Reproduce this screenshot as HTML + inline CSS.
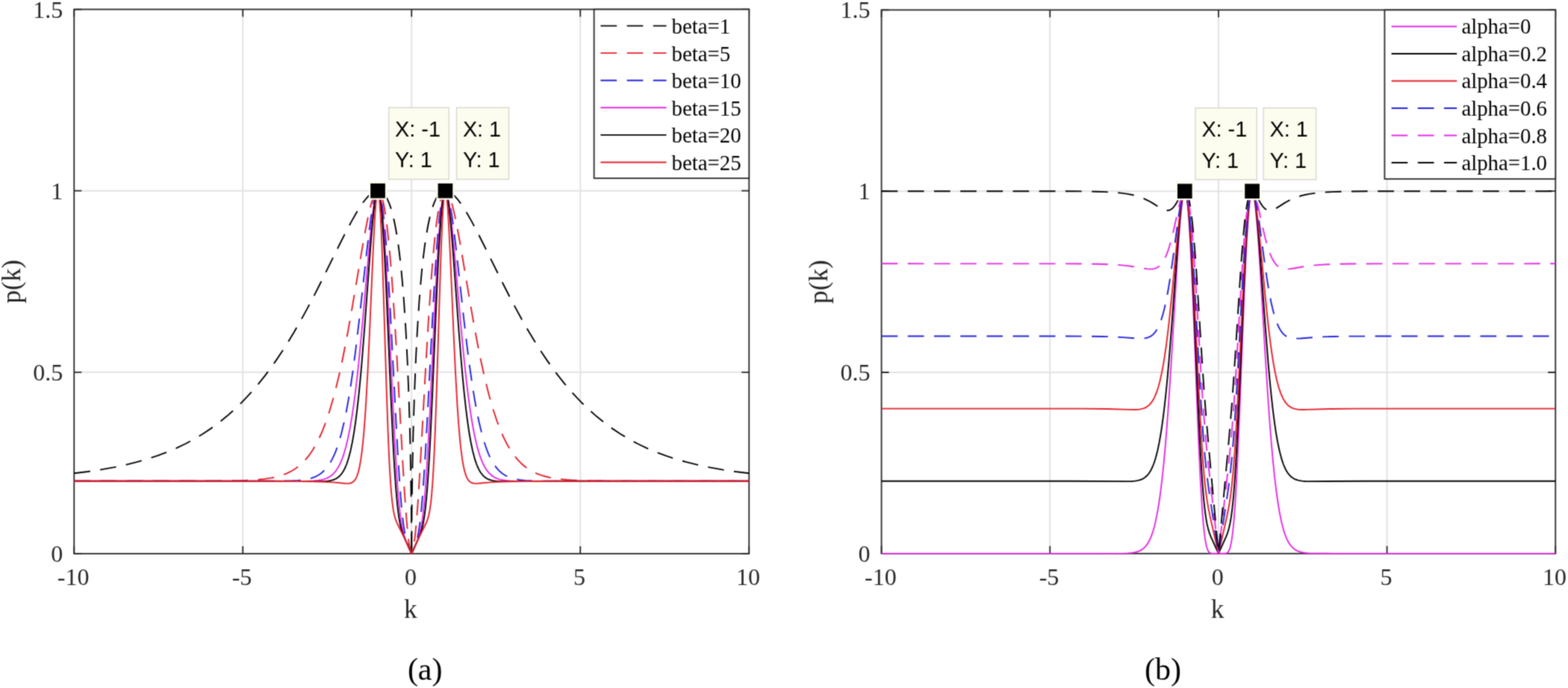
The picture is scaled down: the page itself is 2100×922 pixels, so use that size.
<!DOCTYPE html>
<html><head><meta charset="utf-8"><title>p(k) plots</title>
<style>html,body{margin:0;padding:0;background:#fff;}body{width:2100px;height:922px;overflow:hidden;}svg{display:block;}</style>
</head><body>
<svg width="2100" height="922" viewBox="0 0 2100 922">
<defs><filter id="soft" filterUnits="userSpaceOnUse" x="0" y="0" width="2100" height="922" color-interpolation-filters="sRGB"><feConvolveMatrix order="3" kernelMatrix="1 3 1 3 9 3 1 3 1" divisor="25" edgeMode="duplicate"/></filter></defs>
<g filter="url(#soft)">
<rect x="0" y="0" width="2100" height="922" fill="#ffffff"/>
<path d="M325.24 12.55V742M551.23 12.55V742M777.21 12.55V742M99.25 498.85H1003.2M99.25 255.7H1003.2" stroke="#e2e2e2" stroke-width="2.0" fill="none"/>
<path d="M99.25 742v-10M99.25 12.55v10M325.24 742v-10M325.24 12.55v10M551.23 742v-10M551.23 12.55v10M777.21 742v-10M777.21 12.55v10M1003.2 742v-10M1003.2 12.55v10M99.25 742h10M1003.2 742h-10M99.25 498.85h10M1003.2 498.85h-10M99.25 255.7h10M1003.2 255.7h-10M99.25 12.55h10M1003.2 12.55h-10" stroke="#262626" stroke-width="1.8" fill="none"/>
<rect x="99.25" y="12.55" width="903.95" height="729.45" fill="none" stroke="#262626" stroke-width="1.8"/>
<g fill="none" stroke-width="1.9" stroke-linejoin="round">
<path d="M99.25 634.29 L117.80 631.98 L135.27 629.37 L151.79 626.42 L167.45 623.12 L182.39 619.44 L196.65 615.38 L210.30 610.90 L223.41 605.99 L236.09 600.61 L248.31 594.75 L260.13 588.39 L271.57 581.52 L282.66 574.12 L293.46 566.15 L303.99 557.60 L314.25 548.47 L322.48 540.54 L330.57 532.17 L338.53 523.38 L346.39 514.11 L354.16 504.37 L361.85 494.14 L369.51 483.35 L377.12 472.03 L385.55 458.79 L394.05 444.71 L402.66 429.70 L411.47 413.61 L419.52 398.34 L428.13 381.48 L453.96 329.26 L462.10 313.10 L470.25 297.62 L477.28 285.24 L481.69 278.12 L485.80 272.06 L489.64 267.03 L493.28 262.92 L496.72 259.76 L498.37 258.52 L499.99 257.49 L501.55 256.71 L503.09 256.15 L504.58 255.81 L506.03 255.70" stroke="#000000" stroke-dasharray="21.7 13.5" stroke-dashoffset="0.00"/>
<path d="M506.03 255.70 L507.43 255.81 L508.78 256.13 L510.12 256.68 L511.41 257.43 L512.67 258.40 L513.91 259.59 L516.31 262.62 L518.62 266.56 L520.81 271.35 L522.91 277.06 L524.92 283.66 L526.86 291.25 L528.72 299.75 L530.50 309.25 L532.20 319.63 L533.85 331.19 L535.41 343.61 L536.90 357.04 L538.32 371.49 L539.74 387.77 L541.08 404.96 L543.54 442.87 L545.71 485.25 L547.56 531.73 L549.08 581.85 L550.23 635.28 L550.95 688.96 L551.23 742.00" stroke="#000000" stroke-dasharray="21.7 13.5" stroke-dashoffset="24.98"/>
<path d="M551.23 742.00 L551.50 688.96 L552.22 635.28 L553.37 581.85 L554.89 531.73 L556.74 485.25 L558.91 442.87 L561.37 404.96 L562.71 387.77 L564.13 371.49 L565.55 357.04 L567.04 343.61 L568.60 331.19 L570.25 319.63 L571.95 309.25 L573.73 299.75 L575.59 291.25 L577.53 283.66 L579.54 277.06 L581.64 271.35 L583.83 266.56 L586.14 262.62 L588.54 259.59 L589.78 258.40 L591.04 257.43 L592.33 256.68 L593.67 256.13 L595.02 255.81 L596.42 255.70" stroke="#000000" stroke-dasharray="21.7 13.5" stroke-dashoffset="26.44"/>
<path d="M596.42 255.70 L597.87 255.81 L599.36 256.15 L600.90 256.71 L602.46 257.49 L604.08 258.52 L605.73 259.76 L609.17 262.92 L612.81 267.03 L616.65 272.06 L620.76 278.12 L625.17 285.24 L632.20 297.62 L640.35 313.10 L648.49 329.26 L674.32 381.48 L682.93 398.34 L690.98 413.61 L699.79 429.70 L708.40 444.71 L716.90 458.79 L725.33 472.03 L732.94 483.35 L740.60 494.14 L748.29 504.37 L756.06 514.11 L763.92 523.38 L771.88 532.17 L779.97 540.54 L788.20 548.47 L798.46 557.60 L808.99 566.15 L819.79 574.12 L830.88 581.52 L842.32 588.39 L854.14 594.75 L866.36 600.61 L879.04 605.99 L892.15 610.90 L905.80 615.38 L920.06 619.44 L935.00 623.12 L950.66 626.42 L967.18 629.37 L984.65 631.98 L1003.20 634.29" stroke="#000000" stroke-dasharray="21.7 13.5" stroke-dashoffset="29.15"/>
<path d="M99.25 644.74 L244.13 644.72 L290.41 644.59 L307.86 644.40 L321.71 644.08 L333.31 643.62 L343.25 642.99 L354.10 641.90 L363.54 640.43 L367.88 639.54 L371.97 638.53 L375.86 637.41 L379.56 636.16 L383.14 634.76 L386.57 633.22 L389.85 631.54 L393.01 629.70 L396.06 627.70 L399.00 625.54 L401.85 623.21 L404.63 620.68 L407.70 617.57 L410.68 614.20 L413.58 610.58 L416.38 606.69 L419.11 602.52 L421.80 598.03 L424.42 593.25 L426.98 588.17 L429.49 582.77 L431.95 577.04 L434.37 570.97 L436.76 564.52 L441.44 550.54 L446.01 535.06 L450.28 518.83 L454.50 501.06 L458.75 481.46 L463.09 459.73 L466.89 439.39 L470.95 416.42 L486.52 324.44 L490.03 305.35 L493.10 290.14 L494.95 281.91 L496.72 274.86 L498.41 268.94 L500.04 264.14 L501.60 260.45 L503.11 257.81 L503.86 256.89 L504.58 256.23 L505.30 255.84 L506.03 255.70" stroke="#e41e28" stroke-dasharray="21.7 13.5" stroke-dashoffset="0.00"/>
<path d="M506.03 255.70 L507.07 255.99 L508.11 256.87 L509.12 258.34 L510.14 260.43 L511.13 263.11 L512.11 266.35 L514.03 274.66 L515.93 285.48 L517.78 298.66 L519.63 314.52 L521.46 332.86 L523.20 352.78 L524.94 375.05 L528.56 428.41 L531.99 486.44 L539.52 622.26 L541.48 654.64 L543.23 680.31 L545.26 705.49 L546.23 715.34 L547.20 723.65 L548.15 730.21 L549.10 735.27 L550.07 739.01 L551.23 742.00" stroke="#e41e28" stroke-dasharray="21.7 13.5" stroke-dashoffset="22.71"/>
<path d="M551.23 742.00 L552.38 739.01 L553.35 735.27 L554.30 730.21 L555.25 723.65 L556.22 715.34 L557.19 705.49 L559.22 680.31 L560.97 654.64 L562.93 622.26 L570.46 486.44 L573.89 428.41 L577.51 375.05 L579.25 352.78 L580.99 332.86 L582.82 314.52 L584.67 298.66 L586.52 285.48 L588.42 274.66 L590.34 266.35 L591.32 263.11 L592.31 260.43 L593.33 258.34 L594.34 256.87 L595.38 255.99 L596.42 255.70" stroke="#e41e28" stroke-dasharray="21.7 13.5" stroke-dashoffset="18.44"/>
<path d="M596.42 255.70 L597.15 255.84 L597.87 256.23 L598.59 256.89 L599.34 257.81 L600.85 260.45 L602.41 264.14 L604.04 268.94 L605.73 274.86 L607.50 281.91 L609.35 290.14 L612.42 305.35 L615.93 324.44 L631.50 416.42 L635.56 439.39 L639.36 459.73 L643.70 481.46 L647.95 501.06 L652.17 518.83 L656.44 535.06 L661.01 550.54 L665.69 564.52 L668.08 570.97 L670.50 577.04 L672.96 582.77 L675.47 588.17 L678.03 593.25 L680.65 598.03 L683.34 602.52 L686.07 606.69 L688.87 610.58 L691.77 614.20 L694.75 617.57 L697.82 620.68 L700.60 623.21 L703.45 625.54 L706.39 627.70 L709.44 629.70 L712.60 631.54 L715.88 633.22 L719.31 634.76 L722.89 636.16 L726.59 637.41 L730.48 638.53 L734.57 639.54 L738.91 640.43 L748.35 641.90 L759.20 642.99 L769.14 643.62 L780.74 644.08 L794.59 644.40 L812.04 644.59 L858.32 644.72 L1003.20 644.74" stroke="#e41e28" stroke-dasharray="21.7 13.5" stroke-dashoffset="15.68"/>
<path d="M99.25 644.74 L356.60 644.74 L377.64 644.62 L390.98 644.30 L399.16 643.83 L405.94 643.13 L411.81 642.14 L416.97 640.83 L421.67 639.12 L425.91 637.00 L429.82 634.42 L433.46 631.32 L435.84 628.87 L438.12 626.13 L440.31 623.10 L442.43 619.75 L444.47 616.12 L446.46 612.12 L448.38 607.79 L450.25 603.09 L452.08 598.01 L453.87 592.55 L457.33 580.43 L460.67 566.56 L463.90 550.96 L466.86 534.64 L469.80 516.45 L472.74 496.24 L475.75 473.54 L481.17 428.04 L492.06 329.32 L494.55 308.69 L496.74 292.27 L499.29 276.09 L500.49 269.84 L501.67 264.69 L502.80 260.75 L503.90 257.93 L504.97 256.27 L505.51 255.84 L506.03 255.70" stroke="#2020dc" stroke-dasharray="21.7 13.5" stroke-dashoffset="0.00"/>
<path d="M506.03 255.70 L506.77 255.99 L507.50 256.83 L508.22 258.25 L508.92 260.19 L510.32 265.78 L511.72 273.73 L513.12 284.10 L514.50 296.67 L515.90 311.86 L517.30 329.40 L519.68 364.13 L522.21 407.18 L530.03 558.67 L532.72 607.48 L535.38 649.15 L536.65 665.93 L537.89 680.36 L539.13 692.70 L540.40 703.20 L541.71 712.01 L543.09 719.29 L544.47 724.91 L546.03 729.83 L547.81 734.35 L551.23 742.00" stroke="#2020dc" stroke-dasharray="21.7 13.5" stroke-dashoffset="17.26"/>
<path d="M551.23 742.00 L554.64 734.35 L556.42 729.83 L557.98 724.91 L559.36 719.29 L560.74 712.01 L562.05 703.20 L563.32 692.70 L564.56 680.36 L565.80 665.93 L567.07 649.15 L569.73 607.48 L572.42 558.67 L580.24 407.18 L582.77 364.13 L585.15 329.40 L586.55 311.86 L587.95 296.67 L589.33 284.10 L590.73 273.73 L592.13 265.78 L593.53 260.19 L594.23 258.25 L594.95 256.83 L595.68 255.99 L596.42 255.70" stroke="#2020dc" stroke-dasharray="21.7 13.5" stroke-dashoffset="12.58"/>
<path d="M596.42 255.70 L596.94 255.84 L597.48 256.27 L598.55 257.93 L599.65 260.75 L600.78 264.69 L601.96 269.84 L603.16 276.09 L605.71 292.27 L607.90 308.69 L610.39 329.32 L621.28 428.04 L626.70 473.54 L629.71 496.24 L632.65 516.45 L635.59 534.64 L638.55 550.96 L641.78 566.56 L645.12 580.43 L648.58 592.55 L650.37 598.01 L652.20 603.09 L654.07 607.79 L655.99 612.12 L657.98 616.12 L660.02 619.75 L662.14 623.10 L664.33 626.13 L666.61 628.87 L668.99 631.32 L672.63 634.42 L676.54 637.00 L680.78 639.12 L685.48 640.83 L690.64 642.14 L696.51 643.13 L703.29 643.83 L711.47 644.30 L724.81 644.62 L745.85 644.74 L1003.20 644.74" stroke="#2020dc" stroke-dasharray="21.7 13.5" stroke-dashoffset="10.19"/>
<path d="M99.25 644.74 L398.82 644.85 L413.69 644.71 L420.06 644.43 L425.26 643.98 L429.71 643.30 L433.62 642.37 L437.17 641.13 L440.38 639.57 L443.32 637.66 L446.05 635.34 L448.08 633.20 L450.03 630.78 L451.88 628.06 L453.67 625.01 L455.38 621.63 L457.03 617.92 L458.64 613.82 L460.17 609.41 L463.16 599.29 L466.01 587.47 L468.74 573.85 L471.41 558.21 L473.82 541.85 L476.22 523.51 L478.62 503.02 L481.06 480.01 L485.46 433.64 L494.39 331.95 L496.45 310.55 L498.28 293.43 L500.40 276.68 L501.39 270.26 L502.37 264.99 L503.32 260.90 L504.24 258.00 L505.15 256.27 L505.60 255.84 L506.03 255.70 L506.62 255.96 L507.18 256.71 L507.77 258.02 L508.33 259.80 L509.46 264.93 L510.59 272.19 L511.72 281.60 L512.85 293.17 L514.00 307.14 L515.16 323.21 L517.10 354.70 L519.23 394.49 L526.14 541.29 L528.78 593.42 L531.54 639.22 L532.87 657.50 L534.19 672.86 L535.52 685.90 L536.92 696.98 L538.39 706.07 L539.99 713.61 L541.55 719.17 L543.41 724.36 L545.53 729.38 L551.23 742.00 L556.92 729.38 L559.04 724.36 L560.92 719.10 L562.48 713.52 L564.08 705.95 L565.55 696.82 L566.93 685.90 L568.29 672.62 L569.60 657.21 L570.93 638.89 L573.67 593.42 L576.31 541.29 L583.20 394.93 L585.30 355.50 L587.25 323.88 L589.53 293.93 L590.66 282.24 L591.77 272.86 L592.87 265.55 L594.00 260.21 L594.57 258.33 L595.13 256.96 L595.70 256.09 L596.29 255.71 L596.74 255.77 L597.19 256.13 L598.09 257.72 L599.02 260.49 L599.99 264.56 L600.96 269.73 L601.98 276.21 L604.13 293.04 L605.96 310.11 L608.04 331.71 L616.99 433.64 L621.42 480.23 L623.86 503.23 L626.28 523.88 L628.67 542.17 L631.09 558.49 L633.73 573.97 L636.47 587.57 L639.31 599.37 L642.30 609.47 L643.83 613.88 L645.44 617.97 L647.09 621.68 L648.81 625.05 L650.57 628.06 L652.42 630.78 L654.37 633.20 L656.40 635.34 L659.13 637.66 L662.07 639.57 L665.28 641.13 L668.83 642.37 L672.74 643.30 L677.19 643.98 L682.39 644.43 L688.76 644.71 L703.63 644.85 L1003.20 644.74" stroke="#e426e4"/>
<path d="M99.25 644.74 L355.59 644.77 L430.39 645.13 L435.09 644.97 L438.95 644.65 L442.30 644.15 L445.24 643.45 L447.93 642.51 L450.37 641.31 L452.60 639.85 L454.68 638.08 L456.47 636.19 L458.16 634.00 L459.79 631.47 L461.33 628.66 L462.80 625.51 L464.22 621.99 L465.60 618.08 L466.93 613.78 L469.49 603.92 L471.90 592.36 L474.23 578.87 L476.49 563.32 L478.52 547.08 L480.56 528.62 L482.59 507.91 L484.65 484.76 L488.38 437.79 L495.97 334.10 L497.76 311.88 L499.34 294.23 L501.17 277.08 L502.86 265.15 L503.68 261.01 L504.47 258.08 L505.26 256.29 L505.64 255.85 L506.03 255.70 L506.52 255.95 L507.00 256.66 L507.95 259.52 L508.90 264.32 L509.85 271.10 L510.80 279.87 L511.74 290.60 L513.69 318.43 L515.38 348.56 L517.21 386.12 L523.47 531.46 L526.03 586.00 L527.41 611.82 L528.76 634.21 L530.10 653.12 L531.43 668.96 L532.78 682.06 L534.21 692.91 L535.72 701.71 L537.42 709.01 L539.00 714.16 L540.94 719.23 L551.23 742.00 L561.51 719.23 L563.47 714.10 L565.06 708.93 L566.75 701.60 L568.26 692.76 L569.69 681.87 L571.04 668.72 L572.38 652.83 L573.71 633.86 L575.04 611.82 L576.42 586.00 L578.98 531.46 L585.24 386.12 L587.04 349.00 L588.72 319.17 L590.66 291.16 L591.61 280.33 L592.54 271.66 L593.46 264.88 L594.41 259.89 L595.36 256.85 L595.83 256.05 L596.31 255.71 L596.69 255.77 L597.10 256.16 L597.89 257.81 L598.70 260.72 L599.52 264.76 L601.24 276.71 L603.07 293.76 L604.67 311.61 L606.46 333.81 L614.07 437.79 L617.82 485.02 L619.88 508.15 L621.91 528.84 L623.95 547.27 L626.00 563.65 L628.24 579.02 L630.57 592.48 L632.99 604.02 L635.54 613.85 L636.87 618.15 L638.23 621.99 L639.65 625.51 L641.12 628.66 L642.66 631.47 L644.29 634.00 L645.98 636.19 L647.77 638.08 L649.85 639.85 L652.08 641.31 L654.52 642.51 L657.21 643.45 L660.15 644.15 L663.50 644.65 L667.36 644.97 L672.06 645.13 L746.86 644.77 L1003.20 644.74" stroke="#000000"/>
<path d="M99.25 644.74 L341.60 644.75 L398.98 644.93 L419.56 645.22 L435.32 645.72 L446.25 646.35 L461.28 647.69 L465.24 647.88 L467.95 647.72 L470.19 647.21 L472.11 646.33 L473.80 645.02 L475.00 643.69 L476.11 642.07 L477.15 640.14 L478.14 637.84 L479.97 632.21 L481.67 624.94 L483.25 615.91 L484.76 604.82 L486.21 591.62 L487.59 576.36 L488.83 560.15 L490.07 541.52 L492.56 496.97 L494.84 448.48 L499.56 339.35 L501.71 296.66 L502.89 278.34 L503.97 265.73 L504.49 261.38 L505.01 258.22 L505.53 256.31 L505.78 255.85 L506.03 255.70 L506.32 255.92 L506.59 256.50 L507.16 258.92 L507.70 262.79 L508.26 268.43 L509.39 284.53 L510.55 307.21 L511.61 333.06 L512.78 366.16 L517.44 515.58 L519.56 576.24 L520.76 604.83 L521.96 628.81 L523.18 648.52 L524.45 664.31 L525.58 674.96 L526.82 683.64 L528.20 690.49 L529.82 696.12 L530.86 698.88 L532.13 701.76 L541.33 720.43 L551.23 742.00 L561.12 720.43 L570.32 701.76 L571.59 698.88 L572.63 696.12 L574.25 690.49 L575.63 683.64 L576.87 674.96 L578.00 664.31 L579.27 648.52 L580.49 628.81 L581.69 604.83 L582.89 576.24 L585.01 515.58 L589.67 366.16 L590.84 333.06 L591.90 307.21 L593.06 284.53 L594.16 268.69 L594.73 262.98 L595.27 259.05 L595.81 256.63 L596.08 255.99 L596.38 255.71 L596.63 255.80 L596.87 256.20 L597.39 258.00 L597.91 261.06 L598.46 265.52 L599.54 278.03 L600.72 296.27 L602.89 339.35 L607.61 448.48 L609.89 496.97 L612.40 541.89 L613.64 560.47 L614.89 576.63 L616.26 591.85 L617.71 605.01 L619.20 615.91 L620.78 624.94 L622.48 632.21 L624.31 637.84 L625.30 640.14 L626.34 642.07 L627.45 643.69 L628.65 645.02 L630.34 646.33 L632.26 647.21 L634.50 647.72 L637.21 647.88 L641.17 647.69 L656.20 646.35 L667.13 645.72 L682.89 645.22 L703.47 644.93 L760.85 644.75 L1003.20 644.74" stroke="#e41e28"/>
</g>
<g font-family='"Liberation Serif", "Times New Roman", serif' font-size="32" fill="#262626">
<text x="98.05" y="784.2" text-anchor="middle">-10</text>
<text x="324.04" y="784.2" text-anchor="middle">-5</text>
<text x="550.02" y="784.2" text-anchor="middle">0</text>
<text x="776.01" y="784.2" text-anchor="middle">5</text>
<text x="1002" y="784.2" text-anchor="middle">10</text>
<text x="84.25" y="753" text-anchor="end">0</text>
<text x="84.25" y="509.85" text-anchor="end">0.5</text>
<text x="84.25" y="266.7" text-anchor="end">1</text>
<text x="84.25" y="23.55" text-anchor="end">1.5</text>
</g>
<text x="549.83" y="827.5" text-anchor="middle" fill="#262626" font-family='"Liberation Serif", "Times New Roman", serif' font-size="35.2">k</text>
<text transform="translate(26.6 377.27) rotate(-90)" text-anchor="middle" fill="#262626" font-family='"Liberation Serif", "Times New Roman", serif' font-size="35.2">p(k)</text>
<text x="569.2" y="911.4" text-anchor="middle" font-family='"Liberation Serif", "Times New Roman", serif' font-size="42">(a)</text>
<rect x="795.6" y="12.55" width="207.6" height="226.3" fill="#fff" stroke="#262626" stroke-width="1.8"/>
<path d="M804.4 34.6H892.5" stroke="#000000" stroke-width="1.9" stroke-dasharray="21.7 13.5"/>
<text x="899.6" y="45.4" font-family='"Liberation Serif", "Times New Roman", serif' font-size="28.8">beta=1</text>
<path d="M804.4 71.17H892.5" stroke="#e41e28" stroke-width="1.9" stroke-dasharray="21.7 13.5"/>
<text x="899.6" y="81.87" font-family='"Liberation Serif", "Times New Roman", serif' font-size="28.8">beta=5</text>
<path d="M804.4 107.74H892.5" stroke="#2020dc" stroke-width="1.9" stroke-dasharray="21.7 13.5"/>
<text x="899.6" y="118.34" font-family='"Liberation Serif", "Times New Roman", serif' font-size="28.8">beta=10</text>
<path d="M804.4 144.31H892.5" stroke="#e426e4" stroke-width="1.9"/>
<text x="899.6" y="154.81" font-family='"Liberation Serif", "Times New Roman", serif' font-size="28.8">beta=15</text>
<path d="M804.4 180.88H892.5" stroke="#000000" stroke-width="1.9"/>
<text x="899.6" y="191.28" font-family='"Liberation Serif", "Times New Roman", serif' font-size="28.8">beta=20</text>
<path d="M804.4 217.45H892.5" stroke="#e41e28" stroke-width="1.9"/>
<text x="899.6" y="227.75" font-family='"Liberation Serif", "Times New Roman", serif' font-size="28.8">beta=25</text>
<rect x="495.08" y="244.75" width="21.9" height="21.9" fill="#000" stroke="#fffff0" stroke-width="2.2"/>
<rect x="585.47" y="244.75" width="21.9" height="21.9" fill="#000" stroke="#fffff0" stroke-width="2.2"/>
<rect x="520.7" y="144.3" width="80.5" height="96" fill="#fdfdef" stroke="#d6d6cc" stroke-width="1.4"/>
<text x="529.1" y="182.9" font-family='"Liberation Sans", Arial, sans-serif' font-size="28.8">X: -1</text>
<text x="529.1" y="224.4" font-family='"Liberation Sans", Arial, sans-serif' font-size="28.8">Y: 1</text>
<rect x="611.5" y="144.3" width="70" height="96" fill="#fdfdef" stroke="#d6d6cc" stroke-width="1.4"/>
<text x="619.9" y="182.9" font-family='"Liberation Sans", Arial, sans-serif' font-size="28.8">X: 1</text>
<text x="619.9" y="224.4" font-family='"Liberation Sans", Arial, sans-serif' font-size="28.8">Y: 1</text>
<path d="M1406.22 13.35V741.85M1631.9 13.35V741.85M1857.58 13.35V741.85M1180.55 499.02H2083.25M1180.55 256.18H2083.25" stroke="#e2e2e2" stroke-width="2.0" fill="none"/>
<path d="M1180.55 741.85v-10M1180.55 13.35v10M1406.22 741.85v-10M1406.22 13.35v10M1631.9 741.85v-10M1631.9 13.35v10M1857.58 741.85v-10M1857.58 13.35v10M2083.25 741.85v-10M2083.25 13.35v10M1180.55 741.85h10M2083.25 741.85h-10M1180.55 499.02h10M2083.25 499.02h-10M1180.55 256.18h10M2083.25 256.18h-10M1180.55 13.35h10M2083.25 13.35h-10" stroke="#262626" stroke-width="1.8" fill="none"/>
<rect x="1180.55" y="13.35" width="902.7" height="728.5" fill="none" stroke="#262626" stroke-width="1.8"/>
<g fill="none" stroke-width="1.9" stroke-linejoin="round">
<path d="M1180.55 741.85 L1478.67 741.85 L1504.84 741.65 L1511.05 741.37 L1515.95 740.92 L1520.06 740.23 L1523.58 739.29 L1526.76 738.00 L1529.60 736.36 L1532.20 734.30 L1534.59 731.80 L1536.42 729.38 L1538.15 726.60 L1539.80 723.45 L1541.38 719.88 L1542.89 715.90 L1544.34 711.51 L1545.74 706.64 L1547.07 701.38 L1549.66 689.14 L1552.12 674.75 L1554.49 657.95 L1556.77 638.74 L1558.85 618.44 L1560.90 595.59 L1562.96 569.96 L1565.03 541.30 L1568.82 482.71 L1576.52 353.76 L1578.32 326.21 L1579.93 304.31 L1581.78 283.04 L1583.52 268.05 L1584.35 262.85 L1585.16 259.16 L1585.98 256.92 L1586.38 256.36 L1586.76 256.18 L1587.24 256.45 L1587.71 257.27 L1588.64 260.47 L1589.56 265.83 L1590.49 273.37 L1591.41 283.09 L1592.34 294.95 L1594.26 326.01 L1595.88 358.46 L1597.64 398.76 L1603.35 545.52 L1605.50 597.23 L1607.66 642.57 L1609.72 677.29 L1610.78 691.82 L1611.86 704.28 L1612.97 714.64 L1614.09 722.95 L1615.29 729.56 L1616.55 734.48 L1617.93 737.94 L1618.70 739.22 L1619.51 740.18 L1620.55 740.97 L1621.77 741.48 L1623.26 741.75 L1625.42 741.84 L1640.18 741.78 L1642.35 741.38 L1643.18 741.01 L1643.95 740.49 L1645.06 739.28 L1646.05 737.58 L1646.95 735.37 L1647.81 732.52 L1648.62 729.02 L1649.39 724.90 L1650.88 714.26 L1652.44 698.86 L1653.97 678.95 L1655.51 654.16 L1657.09 623.75 L1659.91 559.08 L1666.47 391.20 L1668.28 350.81 L1669.93 319.13 L1671.73 291.26 L1672.61 280.52 L1673.49 271.73 L1674.37 264.91 L1675.25 260.06 L1676.13 257.17 L1676.58 256.43 L1677.04 256.18 L1677.42 256.36 L1677.82 256.92 L1678.64 259.16 L1679.45 262.85 L1680.28 268.05 L1682.02 283.04 L1683.87 304.31 L1685.48 326.21 L1687.28 353.76 L1694.98 482.71 L1698.77 541.30 L1700.84 569.96 L1702.90 595.59 L1704.95 618.44 L1707.03 638.74 L1709.31 657.95 L1711.68 674.75 L1714.14 689.14 L1716.73 701.38 L1718.06 706.64 L1719.46 711.51 L1720.91 715.90 L1722.42 719.88 L1724.00 723.45 L1725.65 726.60 L1727.38 729.38 L1729.21 731.80 L1731.60 734.30 L1734.20 736.36 L1737.04 738.00 L1740.22 739.29 L1743.74 740.23 L1747.85 740.92 L1752.75 741.37 L1758.96 741.65 L1785.13 741.85 L2083.25 741.85" stroke="#e426e4"/>
<path d="M1180.55 644.72 L1436.53 644.74 L1511.23 645.11 L1515.93 644.94 L1519.78 644.62 L1523.12 644.12 L1526.06 643.43 L1528.74 642.49 L1531.18 641.30 L1533.42 639.83 L1535.49 638.07 L1537.27 636.17 L1538.97 633.99 L1540.59 631.47 L1542.13 628.65 L1543.59 625.51 L1545.02 622.00 L1546.39 618.09 L1547.72 613.79 L1550.27 603.95 L1552.69 592.40 L1555.01 578.94 L1557.27 563.40 L1559.30 547.18 L1561.33 528.75 L1563.36 508.07 L1565.42 484.94 L1569.14 438.04 L1576.72 334.48 L1578.51 312.29 L1580.09 294.67 L1581.91 277.53 L1583.61 265.62 L1584.42 261.49 L1585.21 258.56 L1586.00 256.77 L1586.38 256.33 L1586.76 256.18 L1587.26 256.43 L1587.74 257.15 L1588.68 260.00 L1589.63 264.79 L1590.58 271.56 L1591.53 280.32 L1592.47 291.03 L1594.42 318.84 L1596.11 348.92 L1597.94 386.44 L1604.19 531.59 L1606.74 586.05 L1608.11 611.84 L1609.47 634.20 L1610.80 653.09 L1612.13 668.90 L1613.48 681.99 L1614.91 692.83 L1616.42 701.61 L1618.11 708.90 L1619.69 714.05 L1621.63 719.11 L1631.90 741.85 L1642.17 719.11 L1644.13 713.98 L1645.71 708.82 L1647.40 701.50 L1648.92 692.68 L1650.34 681.80 L1651.69 668.66 L1653.02 652.80 L1654.35 633.85 L1655.69 611.84 L1657.06 586.05 L1659.61 531.59 L1665.86 386.44 L1667.67 349.36 L1669.34 319.57 L1671.28 291.59 L1672.23 280.79 L1673.15 272.12 L1674.08 265.35 L1675.03 260.37 L1675.97 257.34 L1676.45 256.53 L1676.92 256.20 L1677.31 256.26 L1677.71 256.64 L1678.50 258.29 L1679.31 261.19 L1680.13 265.24 L1681.84 277.16 L1683.67 294.20 L1685.27 312.03 L1687.05 334.19 L1694.66 438.04 L1698.41 485.21 L1700.46 508.31 L1702.49 528.96 L1704.52 547.37 L1706.58 563.74 L1708.81 579.08 L1711.13 592.52 L1713.55 604.05 L1716.10 613.87 L1717.43 618.16 L1718.78 622.00 L1720.21 625.51 L1721.67 628.65 L1723.21 631.47 L1724.83 633.99 L1726.53 636.17 L1728.31 638.07 L1730.38 639.83 L1732.62 641.30 L1735.06 642.49 L1737.74 643.43 L1740.68 644.12 L1744.02 644.62 L1747.87 644.94 L1752.57 645.11 L1827.27 644.74 L2083.25 644.72" stroke="#000000"/>
<path d="M1180.55 547.58 L1448.52 547.67 L1482.28 548.00 L1512.61 548.90 L1518.66 548.97 L1524.64 548.69 L1527.12 548.37 L1529.38 547.92 L1531.45 547.32 L1533.39 546.56 L1535.20 545.64 L1536.91 544.54 L1538.65 543.15 L1540.28 541.55 L1541.83 539.70 L1543.32 537.60 L1544.74 535.25 L1546.12 532.61 L1548.74 526.46 L1551.22 519.03 L1553.57 510.31 L1555.82 500.16 L1558.04 488.34 L1560.02 476.04 L1562.01 462.07 L1563.99 446.40 L1566.00 428.88 L1569.66 393.23 L1577.06 315.00 L1578.78 298.47 L1580.31 285.18 L1582.07 272.35 L1583.72 263.31 L1584.51 260.17 L1585.28 257.95 L1586.02 256.63 L1586.40 256.29 L1586.76 256.18 L1587.28 256.41 L1587.80 257.09 L1588.32 258.24 L1588.82 259.78 L1589.83 264.35 L1590.85 270.82 L1591.87 279.23 L1592.88 289.57 L1594.93 316.15 L1596.67 344.05 L1598.57 379.14 L1604.91 511.83 L1607.44 560.81 L1610.10 604.29 L1611.41 622.03 L1612.74 637.59 L1614.00 650.18 L1615.34 661.39 L1616.76 671.42 L1618.36 680.89 L1621.43 695.86 L1631.90 741.85 L1642.39 695.76 L1645.46 680.77 L1647.07 671.27 L1648.49 661.21 L1649.82 649.97 L1651.08 637.35 L1652.41 621.75 L1653.72 603.96 L1656.39 560.40 L1658.89 511.83 L1665.21 379.58 L1667.08 344.83 L1668.80 317.15 L1670.81 290.84 L1671.80 280.50 L1672.79 272.00 L1673.79 265.36 L1674.78 260.55 L1675.77 257.53 L1676.27 256.68 L1676.79 256.23 L1677.17 256.20 L1677.55 256.40 L1678.32 257.51 L1679.11 259.57 L1679.90 262.52 L1681.59 271.49 L1683.40 284.46 L1684.96 297.85 L1686.69 314.55 L1694.16 393.46 L1697.82 429.09 L1699.85 446.77 L1701.84 462.40 L1703.82 476.34 L1705.83 488.74 L1708.02 500.38 L1710.28 510.49 L1712.62 519.18 L1715.11 526.58 L1717.70 532.66 L1719.08 535.29 L1720.50 537.63 L1721.99 539.73 L1723.55 541.57 L1725.17 543.17 L1726.89 544.54 L1728.60 545.64 L1730.41 546.56 L1732.35 547.32 L1734.42 547.92 L1736.68 548.37 L1739.16 548.69 L1745.14 548.97 L1751.19 548.90 L1781.52 548.00 L1815.28 547.67 L2083.25 547.58" stroke="#e41e28"/>
<path d="M1180.55 450.45 L1401.76 450.47 L1457.34 450.65 L1476.64 450.94 L1491.85 451.41 L1504.15 452.08 L1521.95 453.44 L1527.53 453.64 L1531.14 453.52 L1534.25 453.14 L1537.03 452.46 L1539.55 451.47 L1541.16 450.60 L1542.69 449.56 L1544.13 448.36 L1545.53 446.98 L1548.17 443.63 L1550.63 439.51 L1552.98 434.47 L1555.22 428.52 L1557.36 421.61 L1559.46 413.58 L1561.35 405.19 L1563.25 395.67 L1565.15 385.01 L1567.06 373.10 L1570.56 348.85 L1577.63 295.82 L1580.69 275.76 L1582.36 267.07 L1583.90 261.03 L1584.64 258.90 L1585.37 257.39 L1586.07 256.49 L1586.76 256.18" stroke="#2020dc" stroke-dasharray="21.7 13.5" stroke-dashoffset="0.00"/>
<path d="M1586.76 256.18 L1587.35 256.41 L1587.92 257.05 L1588.48 258.14 L1589.04 259.68 L1590.15 264.05 L1591.23 270.15 L1592.32 278.07 L1593.40 287.84 L1595.61 313.35 L1597.46 340.01 L1599.45 373.06 L1605.95 495.35 L1608.47 539.66 L1611.09 579.11 L1613.71 610.97 L1616.04 633.48 L1618.74 654.78 L1621.09 670.87 L1631.90 741.85" stroke="#2020dc" stroke-dasharray="21.7 13.5" stroke-dashoffset="0.62"/>
<path d="M1631.90 741.85 L1642.71 670.87 L1645.06 654.78 L1647.76 633.48 L1650.09 610.97 L1652.71 579.11 L1655.33 539.66 L1657.85 495.35 L1664.35 373.06 L1666.34 340.01 L1668.19 313.35 L1670.40 287.84 L1671.48 278.07 L1672.57 270.15 L1673.65 264.05 L1674.76 259.68 L1675.32 258.14 L1675.88 257.05 L1676.45 256.41 L1677.04 256.18" stroke="#2020dc" stroke-dasharray="21.7 13.5" stroke-dashoffset="31.85"/>
<path d="M1677.04 256.18 L1677.73 256.49 L1678.43 257.39 L1679.16 258.90 L1679.90 261.03 L1681.44 267.07 L1683.11 275.76 L1686.17 295.82 L1693.24 348.85 L1696.74 373.10 L1698.65 385.01 L1700.55 395.67 L1702.45 405.19 L1704.34 413.58 L1706.44 421.61 L1708.58 428.52 L1710.82 434.47 L1713.17 439.51 L1715.63 443.63 L1718.27 446.98 L1719.67 448.36 L1721.11 449.56 L1722.64 450.60 L1724.25 451.47 L1726.77 452.46 L1729.55 453.14 L1732.66 453.52 L1736.27 453.64 L1741.85 453.44 L1759.65 452.08 L1771.95 451.41 L1787.16 450.94 L1806.46 450.65 L1862.04 450.47 L2083.25 450.45" stroke="#2020dc" stroke-dasharray="21.7 13.5" stroke-dashoffset="29.77"/>
<path d="M1180.55 353.32 L1410.17 353.35 L1444.05 353.46 L1466.48 353.73 L1484.83 354.26 L1499.38 355.13 L1506.97 355.85 L1514.17 356.75 L1520.62 357.76 L1532.13 359.79 L1536.57 360.41 L1539.24 360.62 L1541.61 360.65 L1543.77 360.48 L1545.76 360.12 L1548.33 359.28 L1550.70 358.03 L1552.94 356.33 L1555.04 354.17 L1557.04 351.52 L1558.98 348.34 L1560.86 344.62 L1562.69 340.33 L1564.36 335.80 L1566.00 330.75 L1569.37 318.67 L1572.46 305.73 L1578.71 277.46 L1581.44 266.67 L1582.91 262.04 L1584.26 258.79 L1584.91 257.64 L1585.55 256.83 L1586.16 256.35 L1586.76 256.18" stroke="#e426e4" stroke-dasharray="21.7 13.5" stroke-dashoffset="0.00"/>
<path d="M1586.76 256.18 L1587.37 256.36 L1587.98 256.89 L1588.57 257.75 L1589.16 258.99 L1590.29 262.45 L1591.41 267.42 L1592.52 273.85 L1593.60 281.67 L1594.69 291.03 L1595.79 302.16 L1597.76 325.67 L1599.85 355.53 L1602.09 391.44 L1608.90 507.31 L1611.23 542.17 L1613.48 571.78 L1615.79 597.82 L1618.43 623.71 L1631.90 741.85" stroke="#e426e4" stroke-dasharray="21.7 13.5" stroke-dashoffset="23.37"/>
<path d="M1631.90 741.85 L1645.37 623.71 L1648.01 597.82 L1650.32 571.78 L1652.57 542.17 L1654.90 507.31 L1661.71 391.44 L1663.95 355.53 L1666.04 325.67 L1668.01 302.16 L1669.11 291.03 L1670.20 281.67 L1671.28 273.85 L1672.39 267.42 L1673.51 262.45 L1674.64 258.99 L1675.23 257.75 L1675.82 256.89 L1676.43 256.36 L1677.04 256.18" stroke="#e426e4" stroke-dasharray="21.7 13.5" stroke-dashoffset="19.47"/>
<path d="M1677.04 256.18 L1677.64 256.35 L1678.25 256.83 L1678.89 257.64 L1679.54 258.79 L1680.89 262.04 L1682.36 266.67 L1685.09 277.46 L1691.34 305.73 L1694.43 318.67 L1697.80 330.75 L1699.44 335.80 L1701.11 340.33 L1702.94 344.62 L1704.82 348.34 L1706.76 351.52 L1708.76 354.17 L1710.86 356.33 L1713.10 358.03 L1715.47 359.28 L1718.04 360.12 L1720.03 360.48 L1722.19 360.65 L1724.56 360.62 L1727.23 360.41 L1731.67 359.79 L1743.18 357.76 L1749.63 356.75 L1756.83 355.85 L1764.42 355.13 L1778.97 354.26 L1797.32 353.73 L1819.75 353.46 L1853.63 353.35 L2083.25 353.32" stroke="#e426e4" stroke-dasharray="21.7 13.5" stroke-dashoffset="18.87"/>
<path d="M1180.55 256.18 L1431.82 256.29 L1451.63 256.44 L1466.89 256.70 L1479.37 257.10 L1489.86 257.67 L1500.65 258.61 L1509.95 259.88 L1518.16 261.55 L1521.95 262.54 L1525.56 263.65 L1531.95 266.07 L1538.11 269.02 L1543.57 272.15 L1553.39 278.35 L1556.84 280.25 L1558.67 281.05 L1560.36 281.62 L1561.94 281.95 L1563.43 282.06 L1565.57 281.80 L1567.63 281.02 L1569.61 279.69 L1571.55 277.83 L1573.41 275.52 L1575.32 272.63 L1581.12 262.25 L1583.02 259.21 L1584.06 257.87 L1585.03 256.92 L1585.93 256.36 L1586.76 256.18" stroke="#000000" stroke-dasharray="21.7 13.5" stroke-dashoffset="0.00"/>
<path d="M1586.76 256.18 L1587.60 256.38 L1588.39 256.96 L1589.18 257.97 L1589.92 259.35 L1591.37 263.35 L1592.77 269.09 L1594.12 276.57 L1595.48 286.06 L1596.81 297.41 L1598.14 310.77 L1600.08 333.64 L1602.18 362.35 L1610.42 491.29 L1612.49 521.47 L1614.55 548.90 L1618.54 596.19 L1631.90 741.85" stroke="#000000" stroke-dasharray="21.7 13.5" stroke-dashoffset="34.33"/>
<path d="M1631.90 741.85 L1645.26 596.19 L1649.25 548.90 L1651.31 521.47 L1653.38 491.29 L1661.62 362.35 L1663.72 333.64 L1665.66 310.77 L1666.99 297.41 L1668.32 286.06 L1669.68 276.57 L1671.03 269.09 L1672.43 263.35 L1673.88 259.35 L1674.62 257.97 L1675.41 256.96 L1676.20 256.38 L1677.04 256.18" stroke="#000000" stroke-dasharray="21.7 13.5" stroke-dashoffset="29.95"/>
<path d="M1677.04 256.18 L1677.87 256.36 L1678.77 256.92 L1679.74 257.87 L1680.78 259.21 L1682.68 262.25 L1688.48 272.63 L1690.39 275.52 L1692.25 277.83 L1694.19 279.69 L1696.17 281.02 L1698.23 281.80 L1700.37 282.06 L1701.86 281.95 L1703.44 281.62 L1705.13 281.05 L1706.96 280.25 L1710.41 278.35 L1720.23 272.15 L1725.69 269.02 L1731.85 266.07 L1738.24 263.65 L1741.85 262.54 L1745.64 261.55 L1753.85 259.88 L1763.15 258.61 L1773.94 257.67 L1784.43 257.10 L1796.91 256.70 L1812.17 256.44 L1831.98 256.29 L2083.25 256.18" stroke="#000000" stroke-dasharray="21.7 13.5" stroke-dashoffset="24.97"/>
</g>
<g font-family='"Liberation Serif", "Times New Roman", serif' font-size="32" fill="#262626">
<text x="1179.35" y="784.05" text-anchor="middle">-10</text>
<text x="1405.02" y="784.05" text-anchor="middle">-5</text>
<text x="1630.7" y="784.05" text-anchor="middle">0</text>
<text x="1856.38" y="784.05" text-anchor="middle">5</text>
<text x="2082.05" y="784.05" text-anchor="middle">10</text>
<text x="1165.55" y="752.85" text-anchor="end">0</text>
<text x="1165.55" y="510.02" text-anchor="end">0.5</text>
<text x="1165.55" y="267.18" text-anchor="end">1</text>
<text x="1165.55" y="24.35" text-anchor="end">1.5</text>
</g>
<text x="1630.5" y="827.5" text-anchor="middle" fill="#262626" font-family='"Liberation Serif", "Times New Roman", serif' font-size="35.2">k</text>
<text transform="translate(1108.3 377.6) rotate(-90)" text-anchor="middle" fill="#262626" font-family='"Liberation Serif", "Times New Roman", serif' font-size="35.2">p(k)</text>
<text x="1557.4" y="911.4" text-anchor="middle" font-family='"Liberation Serif", "Times New Roman", serif' font-size="42">(b)</text>
<rect x="1854.4" y="13.35" width="228.85" height="226.45" fill="#fff" stroke="#262626" stroke-width="1.8"/>
<path d="M1863.6 35.45H1951.2" stroke="#e426e4" stroke-width="1.9"/>
<text x="1957.4" y="45.25" font-family='"Liberation Serif", "Times New Roman", serif' font-size="28.8">alpha=0</text>
<path d="M1863.6 71.96H1951.2" stroke="#000000" stroke-width="1.9"/>
<text x="1957.4" y="81.82" font-family='"Liberation Serif", "Times New Roman", serif' font-size="28.8">alpha=0.2</text>
<path d="M1863.6 108.47H1951.2" stroke="#e41e28" stroke-width="1.9"/>
<text x="1957.4" y="118.39" font-family='"Liberation Serif", "Times New Roman", serif' font-size="28.8">alpha=0.4</text>
<path d="M1863.6 144.98H1951.2" stroke="#2020dc" stroke-width="1.9" stroke-dasharray="21.7 13.5"/>
<text x="1957.4" y="154.96" font-family='"Liberation Serif", "Times New Roman", serif' font-size="28.8">alpha=0.6</text>
<path d="M1863.6 181.49H1951.2" stroke="#e426e4" stroke-width="1.9" stroke-dasharray="21.7 13.5"/>
<text x="1957.4" y="191.53" font-family='"Liberation Serif", "Times New Roman", serif' font-size="28.8">alpha=0.8</text>
<path d="M1863.6 218H1951.2" stroke="#000000" stroke-width="1.9" stroke-dasharray="21.7 13.5"/>
<text x="1957.4" y="228.1" font-family='"Liberation Serif", "Times New Roman", serif' font-size="28.8">alpha=1.0</text>
<rect x="1575.81" y="245.23" width="21.9" height="21.9" fill="#000" stroke="#fffff0" stroke-width="2.2"/>
<rect x="1666.09" y="245.23" width="21.9" height="21.9" fill="#000" stroke="#fffff0" stroke-width="2.2"/>
<rect x="1601" y="144.6" width="82.2" height="96.1" fill="#fdfdef" stroke="#d6d6cc" stroke-width="1.4"/>
<text x="1609.4" y="183.2" font-family='"Liberation Sans", Arial, sans-serif' font-size="28.8">X: -1</text>
<text x="1609.4" y="224.7" font-family='"Liberation Sans", Arial, sans-serif' font-size="28.8">Y: 1</text>
<rect x="1692.1" y="144.6" width="70.5" height="96.1" fill="#fdfdef" stroke="#d6d6cc" stroke-width="1.4"/>
<text x="1700.5" y="183.2" font-family='"Liberation Sans", Arial, sans-serif' font-size="28.8">X: 1</text>
<text x="1700.5" y="224.7" font-family='"Liberation Sans", Arial, sans-serif' font-size="28.8">Y: 1</text>
</g>
</svg>
</body></html>
